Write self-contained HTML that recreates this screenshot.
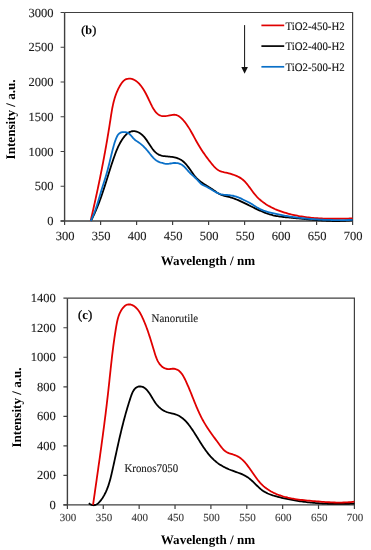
<!DOCTYPE html><html><head><meta charset="utf-8"><style>html,body{margin:0;padding:0;background:#fff;}svg{display:block;}</style></head><body>
<svg width="371" height="550" viewBox="0 0 371 550" text-rendering="geometricPrecision" font-family="'Liberation Serif', 'Times New Roman', serif" fill="#1a1a1a">
<path d="M64.6 12.5H352.6V221" fill="none" stroke="#404040" stroke-width="1.2"/>
<path d="M64.6 12.5V221M60.6 221H352.6" fill="none" stroke="#404040" stroke-width="1.4"/>
<path d="M60.6 221H64.6M60.6 186.25H64.6M60.6 151.5H64.6M60.6 116.75H64.6M60.6 82H64.6M60.6 47.25H64.6M60.6 12.5H64.6M64.6 221V225M100.6 221V225M136.6 221V225M172.6 221V225M208.6 221V225M244.6 221V225M280.6 221V225M316.6 221V225M352.6 221V225" fill="none" stroke="#404040" stroke-width="1.2"/>
<text transform="translate(53.4,225)" font-size="12.5" text-anchor="end" stroke="#1a1a1a" stroke-width="0.12">0</text>
<text transform="translate(53.4,190.25)" font-size="12.5" text-anchor="end" stroke="#1a1a1a" stroke-width="0.12">500</text>
<text transform="translate(53.4,155.5)" font-size="12.5" text-anchor="end" stroke="#1a1a1a" stroke-width="0.12">1000</text>
<text transform="translate(53.4,120.75)" font-size="12.5" text-anchor="end" stroke="#1a1a1a" stroke-width="0.12">1500</text>
<text transform="translate(53.4,86)" font-size="12.5" text-anchor="end" stroke="#1a1a1a" stroke-width="0.12">2000</text>
<text transform="translate(53.4,51.25)" font-size="12.5" text-anchor="end" stroke="#1a1a1a" stroke-width="0.12">2500</text>
<text transform="translate(53.4,16.5)" font-size="12.5" text-anchor="end" stroke="#1a1a1a" stroke-width="0.12">3000</text>
<text transform="translate(65.1,240.2)" font-size="12.5" text-anchor="middle" stroke="#1a1a1a" stroke-width="0.12">300</text>
<text transform="translate(101.1,240.2)" font-size="12.5" text-anchor="middle" stroke="#1a1a1a" stroke-width="0.12">350</text>
<text transform="translate(137.1,240.2)" font-size="12.5" text-anchor="middle" stroke="#1a1a1a" stroke-width="0.12">400</text>
<text transform="translate(173.1,240.2)" font-size="12.5" text-anchor="middle" stroke="#1a1a1a" stroke-width="0.12">450</text>
<text transform="translate(209.1,240.2)" font-size="12.5" text-anchor="middle" stroke="#1a1a1a" stroke-width="0.12">500</text>
<text transform="translate(245.1,240.2)" font-size="12.5" text-anchor="middle" stroke="#1a1a1a" stroke-width="0.12">550</text>
<text transform="translate(281.1,240.2)" font-size="12.5" text-anchor="middle" stroke="#1a1a1a" stroke-width="0.12">600</text>
<text transform="translate(317.1,240.2)" font-size="12.5" text-anchor="middle" stroke="#1a1a1a" stroke-width="0.12">650</text>
<text transform="translate(353.1,240.2)" font-size="12.5" text-anchor="middle" stroke="#1a1a1a" stroke-width="0.12">700</text>
<path d="M90.62 220.81 L90.96 219.38 L91.29 217.94 L91.62 216.51 L91.95 215.08 L92.28 213.65 L92.61 212.22 L92.93 210.79 L93.26 209.36 L93.58 207.93 L93.90 206.50 L94.22 205.07 L94.54 203.64 L94.86 202.21 L95.17 200.78 L95.49 199.35 L95.80 197.92 L96.11 196.49 L96.42 195.06 L96.73 193.63 L97.04 192.20 L97.34 190.77 L97.65 189.34 L97.95 187.91 L98.25 186.48 L98.55 185.05 L98.85 183.62 L99.14 182.19 L99.44 180.75 L99.73 179.32 L100.02 177.89 L100.31 176.46 L100.60 175.03 L100.89 173.59 L101.17 172.16 L101.46 170.73 L101.74 169.30 L102.02 167.86 L102.30 166.43 L102.58 164.99 L102.85 163.56 L103.13 162.13 L103.40 160.69 L103.67 159.25 L103.94 157.82 L104.21 156.38 L104.47 154.95 L104.74 153.51 L105.00 152.07 L105.26 150.63 L105.52 149.19 L105.77 147.75 L106.03 146.31 L106.28 144.87 L106.54 143.43 L106.79 141.99 L107.03 140.55 L107.28 139.11 L107.53 137.66 L107.77 136.22 L108.01 134.77 L108.25 133.33 L108.49 131.88 L108.72 130.44 L108.96 128.99 L109.19 127.54 L109.42 126.09 L109.65 124.64 L109.88 123.19 L110.10 121.74 L110.33 120.29 L110.55 118.84 L110.77 117.39 L110.99 115.93 L111.22 114.48 L111.45 113.03 L111.69 111.58 L111.94 110.14 L112.20 108.70 L112.47 107.26 L112.76 105.83 L113.07 104.40 L113.39 102.97 L113.74 101.56 L114.11 100.15 L114.51 98.75 L114.93 97.35 L115.38 95.97 L115.86 94.59 L116.38 93.23 L116.93 91.87 L117.51 90.53 L118.14 89.20 L118.80 87.88 L119.51 86.57 L120.27 85.28 L121.07 84.01 L121.92 82.77 L122.85 81.63 L123.86 80.61 L124.97 79.78 L126.19 79.16 L127.52 78.78 L128.92 78.63 L130.34 78.69 L131.77 78.95 L133.14 79.39 L134.46 79.99 L135.71 80.74 L136.91 81.62 L138.04 82.61 L139.12 83.69 L140.13 84.84 L141.10 86.04 L142.00 87.28 L142.86 88.53 L143.66 89.79 L144.41 91.03 L145.12 92.27 L145.80 93.51 L146.45 94.75 L147.08 95.99 L147.69 97.25 L148.30 98.51 L148.91 99.80 L149.53 101.10 L150.16 102.42 L150.81 103.78 L151.49 105.16 L152.20 106.56 L152.96 107.95 L153.76 109.30 L154.61 110.60 L155.52 111.81 L156.49 112.92 L157.54 113.89 L158.66 114.70 L159.86 115.33 L161.14 115.77 L162.49 116.03 L163.89 116.14 L165.34 116.11 L166.82 115.95 L168.31 115.70 L169.81 115.39 L171.29 115.09 L172.75 114.86 L174.18 114.76 L175.55 114.86 L176.85 115.20 L178.10 115.76 L179.29 116.49 L180.42 117.37 L181.51 118.36 L182.55 119.42 L183.54 120.52 L184.49 121.65 L185.41 122.80 L186.29 123.98 L187.14 125.18 L187.96 126.40 L188.75 127.64 L189.53 128.89 L190.28 130.16 L191.02 131.43 L191.74 132.72 L192.45 134.01 L193.16 135.30 L193.86 136.60 L194.55 137.90 L195.25 139.19 L195.96 140.48 L196.67 141.76 L197.39 143.03 L198.12 144.29 L198.86 145.54 L199.62 146.78 L200.38 148.02 L201.16 149.24 L201.95 150.46 L202.75 151.67 L203.57 152.87 L204.40 154.07 L205.24 155.26 L206.09 156.44 L206.95 157.62 L207.83 158.80 L208.72 159.97 L209.63 161.13 L210.55 162.29 L211.48 163.45 L212.43 164.61 L213.39 165.75 L214.39 166.86 L215.42 167.91 L216.51 168.87 L217.66 169.73 L218.88 170.46 L220.18 171.06 L221.54 171.54 L222.95 171.95 L224.38 172.31 L225.83 172.64 L227.27 172.98 L228.71 173.34 L230.13 173.71 L231.54 174.12 L232.93 174.55 L234.30 175.02 L235.64 175.54 L236.95 176.10 L238.22 176.71 L239.46 177.38 L240.65 178.11 L241.80 178.91 L242.90 179.78 L243.95 180.72 L244.96 181.72 L245.93 182.78 L246.87 183.88 L247.79 185.02 L248.69 186.19 L249.57 187.38 L250.45 188.59 L251.33 189.80 L252.22 191.01 L253.11 192.21 L254.02 193.40 L254.96 194.55 L255.92 195.68 L256.92 196.76 L257.94 197.81 L259.00 198.82 L260.08 199.79 L261.19 200.73 L262.33 201.64 L263.49 202.51 L264.67 203.35 L265.88 204.16 L267.10 204.93 L268.35 205.68 L269.62 206.39 L270.90 207.08 L272.21 207.74 L273.52 208.37 L274.85 208.98 L276.20 209.56 L277.55 210.12 L278.92 210.65 L280.30 211.16 L281.68 211.65 L283.07 212.11 L284.47 212.56 L285.87 212.98 L287.28 213.39 L288.69 213.78 L290.10 214.15 L291.52 214.50 L292.94 214.83 L294.36 215.15 L295.79 215.45 L297.21 215.74 L298.64 216.01 L300.08 216.27 L301.51 216.51 L302.95 216.73 L304.39 216.94 L305.83 217.14 L307.28 217.32 L308.72 217.49 L310.17 217.65 L311.62 217.80 L313.07 217.93 L314.53 218.05 L315.98 218.16 L317.44 218.26 L318.89 218.35 L320.35 218.43 L321.81 218.50 L323.28 218.56 L324.74 218.62 L326.20 218.66 L327.67 218.69 L329.13 218.72 L330.60 218.74 L332.07 218.76 L333.53 218.76 L335.00 218.76 L336.47 218.76 L337.94 218.75 L339.41 218.73 L340.88 218.71 L342.35 218.68 L343.81 218.66 L345.28 218.62 L346.75 218.59 L348.22 218.55 L349.69 218.51 L351.16 218.47 L352.63 218.42" fill="none" stroke="#e00000" stroke-width="1.8" stroke-linejoin="round"/>
<path d="M90.94 220.92 L91.48 219.87 L92.01 218.83 L92.53 217.78 L93.04 216.72 L93.55 215.66 L94.04 214.60 L94.53 213.54 L95.01 212.47 L95.48 211.40 L95.95 210.32 L96.40 209.25 L96.85 208.17 L97.30 207.08 L97.73 206.00 L98.16 204.91 L98.59 203.82 L99.00 202.73 L99.42 201.63 L99.82 200.54 L100.23 199.44 L100.62 198.34 L101.02 197.23 L101.40 196.13 L101.79 195.02 L102.17 193.92 L102.54 192.81 L102.92 191.70 L103.29 190.58 L103.65 189.47 L104.02 188.36 L104.38 187.24 L104.74 186.12 L105.10 185.01 L105.45 183.89 L105.81 182.77 L106.16 181.65 L106.51 180.53 L106.86 179.41 L107.22 178.29 L107.57 177.17 L107.92 176.04 L108.27 174.92 L108.62 173.80 L108.97 172.68 L109.32 171.56 L109.68 170.44 L110.03 169.32 L110.39 168.20 L110.75 167.08 L111.11 165.96 L111.47 164.84 L111.84 163.72 L112.21 162.61 L112.58 161.49 L112.96 160.38 L113.34 159.27 L113.72 158.15 L114.11 157.04 L114.50 155.93 L114.89 154.83 L115.30 153.73 L115.71 152.63 L116.14 151.53 L116.58 150.44 L117.02 149.36 L117.49 148.28 L117.97 147.22 L118.46 146.16 L118.98 145.10 L119.52 144.06 L120.07 143.03 L120.65 142.01 L121.25 141.00 L121.88 140.01 L122.54 139.03 L123.22 138.06 L123.94 137.10 L124.68 136.17 L125.46 135.27 L126.29 134.42 L127.16 133.63 L128.10 132.93 L129.09 132.33 L130.13 131.84 L131.21 131.48 L132.30 131.23 L133.40 131.13 L134.49 131.16 L135.57 131.31 L136.63 131.58 L137.67 131.97 L138.69 132.45 L139.68 133.02 L140.65 133.68 L141.58 134.41 L142.48 135.20 L143.34 136.05 L144.16 136.94 L144.94 137.88 L145.70 138.85 L146.43 139.85 L147.13 140.87 L147.82 141.90 L148.50 142.95 L149.18 143.99 L149.84 145.03 L150.51 146.06 L151.19 147.08 L151.87 148.07 L152.57 149.02 L153.29 149.95 L154.04 150.82 L154.81 151.65 L155.61 152.43 L156.45 153.14 L157.34 153.78 L158.27 154.34 L159.25 154.83 L160.28 155.23 L161.36 155.55 L162.48 155.81 L163.63 156.02 L164.81 156.18 L166.02 156.32 L167.23 156.43 L168.46 156.54 L169.68 156.65 L170.90 156.78 L172.10 156.93 L173.28 157.12 L174.44 157.35 L175.58 157.63 L176.68 157.95 L177.76 158.33 L178.81 158.75 L179.82 159.23 L180.80 159.77 L181.74 160.36 L182.65 161.01 L183.52 161.72 L184.36 162.48 L185.16 163.29 L185.94 164.14 L186.70 165.03 L187.43 165.95 L188.15 166.89 L188.86 167.86 L189.56 168.84 L190.26 169.84 L190.95 170.84 L191.65 171.83 L192.35 172.83 L193.06 173.81 L193.78 174.78 L194.52 175.72 L195.28 176.64 L196.06 177.53 L196.87 178.38 L197.70 179.19 L198.56 179.97 L199.45 180.72 L200.35 181.45 L201.27 182.14 L202.21 182.82 L203.16 183.48 L204.12 184.13 L205.10 184.76 L206.08 185.38 L207.07 186.00 L208.06 186.62 L209.05 187.23 L210.05 187.85 L211.04 188.48 L212.02 189.12 L213.00 189.77 L213.98 190.44 L214.95 191.11 L215.92 191.77 L216.89 192.42 L217.88 193.05 L218.88 193.64 L219.90 194.19 L220.94 194.68 L222.01 195.11 L223.11 195.47 L224.23 195.80 L225.36 196.09 L226.50 196.36 L227.64 196.62 L228.79 196.90 L229.92 197.19 L231.04 197.51 L232.16 197.86 L233.26 198.23 L234.36 198.62 L235.45 199.04 L236.54 199.47 L237.61 199.91 L238.69 200.38 L239.75 200.85 L240.82 201.34 L241.88 201.83 L242.94 202.33 L244.00 202.84 L245.05 203.36 L246.11 203.88 L247.16 204.40 L248.21 204.92 L249.27 205.45 L250.32 205.98 L251.37 206.50 L252.42 207.03 L253.48 207.55 L254.54 208.07 L255.59 208.58 L256.65 209.09 L257.71 209.59 L258.78 210.08 L259.85 210.57 L260.92 211.04 L261.99 211.50 L263.07 211.95 L264.15 212.39 L265.24 212.81 L266.33 213.22 L267.43 213.61 L268.53 213.98 L269.64 214.34 L270.76 214.67 L271.88 214.98 L273.01 215.28 L274.14 215.55 L275.29 215.79 L276.44 216.02 L277.59 216.22 L278.76 216.41 L279.92 216.58 L281.09 216.73 L282.27 216.88 L283.45 217.01 L284.63 217.13 L285.81 217.25 L286.99 217.36 L288.17 217.46 L289.35 217.57 L290.53 217.68 L291.71 217.78 L292.88 217.89 L294.06 218.00 L295.23 218.12 L296.40 218.23 L297.57 218.35 L298.74 218.46 L299.91 218.58 L301.07 218.69 L302.23 218.81 L303.40 218.92 L304.56 219.04 L305.72 219.15 L306.88 219.27 L308.04 219.38 L309.20 219.49 L310.36 219.60 L311.52 219.70 L312.68 219.81 L313.84 219.91 L314.99 220.00 L316.15 220.10 L317.31 220.19 L318.47 220.28 L319.63 220.37 L320.79 220.45 L321.95 220.52 L323.11 220.59 L324.27 220.66 L325.43 220.72 L326.59 220.78 L327.76 220.83 L328.92 220.88 L330.09 220.92 L331.26 220.95 L332.43 220.98 L333.60 221.00 L334.77 221.01 L335.94 221.01 L337.12 221.01 L338.29 221.00 L339.47 220.99 L340.65 220.96 L341.84 220.93 L343.02 220.88 L344.21 220.83 L345.40 220.77 L346.60 220.70 L347.79 220.62 L348.99 220.53 L350.19 220.43 L351.39 220.32 L352.60 220.20" fill="none" stroke="#000000" stroke-width="1.8" stroke-linejoin="round"/>
<path d="M90.74 220.82 L91.27 219.75 L91.79 218.69 L92.29 217.61 L92.77 216.53 L93.24 215.45 L93.69 214.36 L94.13 213.26 L94.55 212.16 L94.96 211.06 L95.37 209.95 L95.76 208.83 L96.14 207.72 L96.51 206.60 L96.87 205.47 L97.23 204.35 L97.58 203.22 L97.92 202.09 L98.27 200.96 L98.60 199.82 L98.94 198.69 L99.27 197.55 L99.61 196.42 L99.94 195.28 L100.27 194.14 L100.61 193.01 L100.95 191.87 L101.29 190.74 L101.64 189.60 L101.99 188.47 L102.35 187.34 L102.70 186.21 L103.06 185.08 L103.42 183.95 L103.78 182.82 L104.14 181.69 L104.49 180.57 L104.85 179.44 L105.20 178.31 L105.55 177.18 L105.89 176.04 L106.23 174.91 L106.56 173.78 L106.88 172.64 L107.20 171.51 L107.51 170.37 L107.82 169.23 L108.12 168.09 L108.41 166.95 L108.70 165.80 L108.99 164.66 L109.27 163.52 L109.55 162.37 L109.83 161.22 L110.10 160.08 L110.38 158.93 L110.66 157.78 L110.94 156.63 L111.21 155.48 L111.49 154.33 L111.78 153.18 L112.06 152.03 L112.35 150.88 L112.65 149.73 L112.95 148.58 L113.26 147.43 L113.57 146.28 L113.89 145.13 L114.22 143.99 L114.57 142.85 L114.93 141.72 L115.32 140.59 L115.73 139.48 L116.16 138.39 L116.62 137.31 L117.13 136.25 L117.69 135.25 L118.36 134.33 L119.15 133.54 L120.11 132.91 L121.21 132.45 L122.39 132.16 L123.63 132.03 L124.88 132.06 L126.10 132.25 L127.25 132.61 L128.28 133.12 L129.22 133.78 L130.07 134.54 L130.86 135.38 L131.62 136.26 L132.38 137.17 L133.15 138.07 L133.96 138.92 L134.83 139.72 L135.76 140.44 L136.74 141.12 L137.73 141.79 L138.71 142.45 L139.68 143.14 L140.61 143.86 L141.52 144.61 L142.40 145.39 L143.26 146.19 L144.10 147.01 L144.92 147.86 L145.72 148.72 L146.51 149.61 L147.28 150.50 L148.04 151.42 L148.79 152.35 L149.53 153.28 L150.27 154.22 L151.02 155.16 L151.77 156.07 L152.54 156.97 L153.34 157.84 L154.16 158.66 L155.02 159.44 L155.91 160.16 L156.86 160.82 L157.85 161.41 L158.91 161.91 L160.03 162.33 L161.20 162.67 L162.39 162.98 L163.57 163.30 L164.72 163.62 L165.87 163.85 L167.01 163.93 L168.16 163.87 L169.31 163.71 L170.48 163.50 L171.64 163.28 L172.82 163.10 L174.01 163.00 L175.20 162.99 L176.38 163.07 L177.54 163.23 L178.68 163.48 L179.78 163.83 L180.85 164.28 L181.87 164.83 L182.83 165.47 L183.74 166.21 L184.61 167.02 L185.44 167.89 L186.25 168.79 L187.05 169.72 L187.85 170.64 L188.65 171.54 L189.48 172.41 L190.31 173.25 L191.16 174.06 L192.02 174.86 L192.89 175.64 L193.75 176.42 L194.62 177.21 L195.47 178.01 L196.32 178.83 L197.15 179.67 L197.96 180.55 L198.76 181.46 L199.57 182.36 L200.40 183.22 L201.29 184.00 L202.24 184.66 L203.25 185.21 L204.31 185.70 L205.38 186.18 L206.44 186.70 L207.49 187.26 L208.53 187.85 L209.56 188.46 L210.58 189.08 L211.61 189.71 L212.63 190.33 L213.65 190.95 L214.69 191.55 L215.73 192.11 L216.77 192.65 L217.84 193.14 L218.92 193.58 L220.01 193.96 L221.13 194.27 L222.27 194.51 L223.43 194.68 L224.61 194.81 L225.79 194.91 L226.98 195.00 L228.17 195.09 L229.36 195.20 L230.53 195.35 L231.70 195.53 L232.86 195.75 L234.01 196.00 L235.15 196.30 L236.27 196.64 L237.38 197.03 L238.49 197.46 L239.58 197.92 L240.66 198.42 L241.73 198.93 L242.80 199.46 L243.87 199.99 L244.93 200.52 L245.99 201.03 L247.05 201.53 L248.10 202.04 L249.14 202.57 L250.17 203.14 L251.19 203.73 L252.19 204.35 L253.20 204.99 L254.19 205.64 L255.19 206.29 L256.20 206.92 L257.21 207.54 L258.24 208.12 L259.28 208.68 L260.34 209.19 L261.41 209.68 L262.49 210.13 L263.59 210.56 L264.70 210.96 L265.81 211.33 L266.94 211.69 L268.07 212.02 L269.21 212.34 L270.36 212.64 L271.51 212.92 L272.66 213.20 L273.82 213.46 L274.97 213.72 L276.13 213.97 L277.29 214.22 L278.45 214.46 L279.61 214.70 L280.77 214.93 L281.94 215.15 L283.10 215.37 L284.26 215.58 L285.43 215.79 L286.59 215.99 L287.76 216.18 L288.93 216.37 L290.10 216.56 L291.26 216.74 L292.43 216.91 L293.60 217.08 L294.78 217.24 L295.95 217.40 L297.12 217.55 L298.29 217.70 L299.47 217.84 L300.64 217.98 L301.81 218.12 L302.99 218.24 L304.16 218.37 L305.34 218.49 L306.52 218.60 L307.69 218.71 L308.87 218.81 L310.05 218.91 L311.23 219.01 L312.41 219.10 L313.59 219.19 L314.76 219.27 L315.94 219.35 L317.12 219.42 L318.31 219.49 L319.49 219.56 L320.67 219.62 L321.85 219.68 L323.03 219.73 L324.21 219.78 L325.39 219.82 L326.58 219.86 L327.76 219.90 L328.94 219.94 L330.12 219.97 L331.31 219.99 L332.49 220.02 L333.67 220.04 L334.86 220.05 L336.04 220.06 L337.22 220.07 L338.41 220.08 L339.59 220.08 L340.77 220.08 L341.96 220.08 L343.14 220.07 L344.32 220.06 L345.50 220.04 L346.69 220.03 L347.87 220.01 L349.05 219.99 L350.24 219.96 L351.42 219.93 L352.60 219.90" fill="none" stroke="#0a70c8" stroke-width="1.8" stroke-linejoin="round"/>
<text transform="translate(81.3,34.4)" font-size="12.2" font-weight="bold" fill="#000"><tspan font-weight="normal" stroke="#000" stroke-width="0.3">(</tspan>b<tspan font-weight="normal" stroke="#000" stroke-width="0.3">)</tspan></text>
<path d="M261.4 25.4H284.2" stroke="#e00000" stroke-width="1.7"/>
<text transform="translate(285.6,29.6) scale(1,1.06)" font-size="10.8" fill="#111" stroke="#111" stroke-width="0.12">TiO2-450-H2</text>
<path d="M261.4 46.1H284.2" stroke="#000000" stroke-width="1.7"/>
<text transform="translate(285.6,50.3) scale(1,1.06)" font-size="10.8" fill="#111" stroke="#111" stroke-width="0.12">TiO2-400-H2</text>
<path d="M261.4 66.8H284.2" stroke="#0a70c8" stroke-width="1.7"/>
<text transform="translate(285.6,71) scale(1,1.06)" font-size="10.8" fill="#111" stroke="#111" stroke-width="0.12">TiO2-500-H2</text>
<path d="M244.6 25.1V68" stroke="#111" stroke-width="1"/>
<path d="M241.3 67.1H247.9L244.6 73.8Z" fill="#111"/>
<text transform="translate(207.9,265.3)" font-size="13.05" text-anchor="middle" font-weight="bold" fill="#000">Wavelength / nm</text>
<text transform="translate(15.1,119.4) rotate(-90)" font-size="13.1" text-anchor="middle" font-weight="bold" fill="#000">Intensity / a.u.</text>
<path d="M67.4 298.2H354.4V504.9" fill="none" stroke="#404040" stroke-width="1.2"/>
<path d="M67.4 298.2V504.9M63.4 504.9H354.4" fill="none" stroke="#404040" stroke-width="1.4"/>
<path d="M63.4 504.9H67.4M63.4 475.37H67.4M63.4 445.84H67.4M63.4 416.31H67.4M63.4 386.79H67.4M63.4 357.26H67.4M63.4 327.73H67.4M63.4 298.2H67.4M67.4 504.9V508.9M103.28 504.9V508.9M139.15 504.9V508.9M175.03 504.9V508.9M210.9 504.9V508.9M246.78 504.9V508.9M282.65 504.9V508.9M318.52 504.9V508.9M354.4 504.9V508.9" fill="none" stroke="#404040" stroke-width="1.2"/>
<text transform="translate(55.8,508.9)" font-size="12.5" text-anchor="end" stroke="#1a1a1a" stroke-width="0.12">0</text>
<text transform="translate(55.8,479.37)" font-size="12.5" text-anchor="end" stroke="#1a1a1a" stroke-width="0.12">200</text>
<text transform="translate(55.8,449.84)" font-size="12.5" text-anchor="end" stroke="#1a1a1a" stroke-width="0.12">400</text>
<text transform="translate(55.8,420.31)" font-size="12.5" text-anchor="end" stroke="#1a1a1a" stroke-width="0.12">600</text>
<text transform="translate(55.8,390.79)" font-size="12.5" text-anchor="end" stroke="#1a1a1a" stroke-width="0.12">800</text>
<text transform="translate(55.8,361.26)" font-size="12.5" text-anchor="end" stroke="#1a1a1a" stroke-width="0.12">1000</text>
<text transform="translate(55.8,331.73)" font-size="12.5" text-anchor="end" stroke="#1a1a1a" stroke-width="0.12">1200</text>
<text transform="translate(55.8,302.2)" font-size="12.5" text-anchor="end" stroke="#1a1a1a" stroke-width="0.12">1400</text>
<text transform="translate(68.1,520.9)" font-size="11" text-anchor="middle" fill="#3a3a3a" stroke="#3a3a3a" stroke-width="0.12">300</text>
<text transform="translate(103.98,520.9)" font-size="11" text-anchor="middle" fill="#3a3a3a" stroke="#3a3a3a" stroke-width="0.12">350</text>
<text transform="translate(139.85,520.9)" font-size="11" text-anchor="middle" fill="#3a3a3a" stroke="#3a3a3a" stroke-width="0.12">400</text>
<text transform="translate(175.72,520.9)" font-size="11" text-anchor="middle" fill="#3a3a3a" stroke="#3a3a3a" stroke-width="0.12">450</text>
<text transform="translate(211.6,520.9)" font-size="11" text-anchor="middle" fill="#3a3a3a" stroke="#3a3a3a" stroke-width="0.12">500</text>
<text transform="translate(247.47,520.9)" font-size="11" text-anchor="middle" fill="#3a3a3a" stroke="#3a3a3a" stroke-width="0.12">550</text>
<text transform="translate(283.35,520.9)" font-size="11" text-anchor="middle" fill="#3a3a3a" stroke="#3a3a3a" stroke-width="0.12">600</text>
<text transform="translate(319.22,520.9)" font-size="11" text-anchor="middle" fill="#3a3a3a" stroke="#3a3a3a" stroke-width="0.12">650</text>
<text transform="translate(355.1,520.9)" font-size="11" text-anchor="middle" fill="#3a3a3a" stroke="#3a3a3a" stroke-width="0.12">700</text>
<path d="M88.79 503.33 L90.23 504.30 L91.59 504.92 L92.88 505.22 L94.10 505.23 L95.26 505.00 L96.35 504.54 L97.39 503.90 L98.37 503.10 L99.29 502.19 L100.17 501.18 L101.01 500.11 L101.80 499.02 L102.55 497.91 L103.27 496.78 L103.95 495.63 L104.59 494.46 L105.20 493.28 L105.78 492.08 L106.33 490.86 L106.86 489.64 L107.35 488.40 L107.82 487.15 L108.27 485.89 L108.69 484.62 L109.10 483.34 L109.49 482.05 L109.86 480.76 L110.21 479.46 L110.55 478.16 L110.88 476.85 L111.20 475.54 L111.51 474.23 L111.81 472.92 L112.11 471.61 L112.40 470.30 L112.69 468.99 L112.98 467.68 L113.27 466.38 L113.56 465.08 L113.84 463.78 L114.13 462.48 L114.41 461.18 L114.69 459.89 L114.97 458.60 L115.25 457.30 L115.54 456.01 L115.82 454.73 L116.10 453.44 L116.38 452.15 L116.66 450.87 L116.94 449.58 L117.22 448.30 L117.51 447.01 L117.79 445.73 L118.08 444.45 L118.36 443.17 L118.65 441.89 L118.94 440.61 L119.23 439.32 L119.53 438.04 L119.82 436.76 L120.12 435.48 L120.42 434.20 L120.73 432.92 L121.03 431.63 L121.34 430.35 L121.65 429.07 L121.97 427.78 L122.29 426.50 L122.61 425.21 L122.94 423.92 L123.27 422.63 L123.60 421.34 L123.94 420.05 L124.28 418.76 L124.63 417.46 L124.98 416.17 L125.34 414.87 L125.70 413.57 L126.07 412.27 L126.44 410.96 L126.82 409.66 L127.21 408.35 L127.60 407.04 L127.99 405.72 L128.39 404.41 L128.80 403.09 L129.22 401.76 L129.64 400.44 L130.07 399.11 L130.50 397.78 L130.95 396.45 L131.41 395.14 L131.90 393.85 L132.43 392.62 L133.01 391.45 L133.64 390.36 L134.34 389.38 L135.12 388.50 L135.98 387.76 L136.94 387.17 L138.00 386.74 L139.14 386.49 L140.33 386.42 L141.51 386.55 L142.67 386.88 L143.77 387.41 L144.82 388.11 L145.83 388.95 L146.79 389.93 L147.70 391.00 L148.58 392.15 L149.42 393.36 L150.22 394.59 L150.99 395.83 L151.73 397.05 L152.45 398.24 L153.16 399.40 L153.86 400.54 L154.56 401.63 L155.29 402.70 L156.04 403.74 L156.82 404.74 L157.66 405.71 L158.54 406.65 L159.48 407.54 L160.48 408.39 L161.52 409.19 L162.61 409.93 L163.75 410.62 L164.94 411.23 L166.16 411.78 L167.43 412.24 L168.74 412.63 L170.07 412.97 L171.41 413.28 L172.74 413.58 L174.06 413.91 L175.34 414.28 L176.58 414.73 L177.77 415.24 L178.92 415.82 L180.03 416.47 L181.10 417.17 L182.14 417.92 L183.13 418.73 L184.10 419.59 L185.04 420.48 L185.94 421.42 L186.83 422.39 L187.68 423.40 L188.52 424.43 L189.33 425.48 L190.13 426.56 L190.91 427.65 L191.68 428.75 L192.44 429.87 L193.19 430.99 L193.92 432.12 L194.65 433.25 L195.38 434.39 L196.10 435.53 L196.81 436.68 L197.52 437.82 L198.23 438.97 L198.94 440.11 L199.65 441.26 L200.37 442.40 L201.08 443.53 L201.81 444.66 L202.53 445.78 L203.27 446.89 L204.02 447.99 L204.77 449.09 L205.54 450.17 L206.32 451.24 L207.11 452.29 L207.92 453.33 L208.74 454.35 L209.59 455.35 L210.45 456.34 L211.33 457.30 L212.23 458.24 L213.16 459.16 L214.11 460.06 L215.09 460.93 L216.09 461.78 L217.12 462.60 L218.19 463.39 L219.27 464.15 L220.39 464.88 L221.53 465.58 L222.69 466.26 L223.88 466.91 L225.08 467.53 L226.29 468.13 L227.52 468.69 L228.76 469.24 L230.01 469.75 L231.27 470.24 L232.52 470.71 L233.78 471.17 L235.04 471.62 L236.30 472.06 L237.55 472.51 L238.79 472.97 L240.02 473.44 L241.24 473.93 L242.44 474.44 L243.62 474.99 L244.78 475.58 L245.92 476.21 L247.03 476.88 L248.12 477.61 L249.17 478.40 L250.20 479.23 L251.22 480.10 L252.21 481.01 L253.19 481.94 L254.16 482.88 L255.13 483.84 L256.10 484.80 L257.07 485.75 L258.05 486.69 L259.04 487.61 L260.05 488.51 L261.07 489.36 L262.12 490.18 L263.20 490.94 L264.31 491.65 L265.44 492.31 L266.60 492.92 L267.78 493.48 L268.99 494.01 L270.21 494.49 L271.45 494.95 L272.70 495.37 L273.97 495.76 L275.25 496.14 L276.53 496.49 L277.82 496.83 L279.12 497.16 L280.41 497.48 L281.71 497.78 L283.01 498.09 L284.31 498.38 L285.61 498.66 L286.92 498.94 L288.22 499.21 L289.53 499.47 L290.83 499.72 L292.14 499.96 L293.45 500.20 L294.76 500.43 L296.07 500.65 L297.39 500.86 L298.70 501.06 L300.01 501.26 L301.33 501.45 L302.65 501.63 L303.96 501.81 L305.28 501.98 L306.60 502.14 L307.92 502.29 L309.24 502.43 L310.56 502.57 L311.88 502.70 L313.21 502.83 L314.53 502.95 L315.86 503.06 L317.18 503.16 L318.51 503.26 L319.83 503.35 L321.16 503.43 L322.48 503.51 L323.81 503.58 L325.14 503.64 L326.47 503.70 L327.80 503.75 L329.13 503.79 L330.46 503.83 L331.78 503.86 L333.11 503.89 L334.44 503.91 L335.78 503.92 L337.11 503.93 L338.44 503.93 L339.77 503.92 L341.10 503.91 L342.43 503.90 L343.76 503.88 L345.09 503.85 L346.42 503.82 L347.75 503.78 L349.08 503.73 L350.41 503.68 L351.74 503.63 L353.07 503.57 L354.40 503.50" fill="none" stroke="#000000" stroke-width="1.8" stroke-linejoin="round"/>
<path d="M93.04 504.98 L93.29 503.20 L93.54 501.42 L93.80 499.64 L94.05 497.86 L94.30 496.07 L94.56 494.29 L94.81 492.51 L95.07 490.72 L95.32 488.94 L95.58 487.15 L95.83 485.37 L96.09 483.58 L96.34 481.79 L96.59 480.01 L96.85 478.22 L97.10 476.43 L97.36 474.65 L97.61 472.86 L97.87 471.07 L98.12 469.28 L98.37 467.49 L98.62 465.71 L98.88 463.92 L99.13 462.13 L99.38 460.34 L99.63 458.55 L99.88 456.76 L100.13 454.97 L100.38 453.18 L100.63 451.39 L100.87 449.60 L101.12 447.81 L101.37 446.02 L101.61 444.23 L101.86 442.43 L102.10 440.64 L102.34 438.85 L102.58 437.06 L102.82 435.27 L103.06 433.48 L103.30 431.69 L103.53 429.89 L103.77 428.10 L104.00 426.31 L104.23 424.52 L104.47 422.73 L104.69 420.93 L104.92 419.14 L105.15 417.35 L105.37 415.56 L105.60 413.77 L105.82 411.98 L106.04 410.18 L106.26 408.39 L106.48 406.60 L106.69 404.81 L106.90 403.02 L107.12 401.23 L107.32 399.44 L107.53 397.64 L107.74 395.85 L107.94 394.06 L108.14 392.27 L108.34 390.48 L108.54 388.69 L108.73 386.90 L108.93 385.11 L109.12 383.32 L109.31 381.53 L109.50 379.74 L109.69 377.95 L109.88 376.16 L110.07 374.37 L110.26 372.58 L110.45 370.79 L110.64 369.00 L110.84 367.21 L111.03 365.42 L111.23 363.63 L111.43 361.84 L111.63 360.05 L111.83 358.25 L112.04 356.46 L112.25 354.67 L112.47 352.87 L112.69 351.08 L112.91 349.28 L113.14 347.49 L113.37 345.69 L113.61 343.90 L113.85 342.10 L114.10 340.30 L114.35 338.50 L114.62 336.70 L114.88 334.90 L115.16 333.10 L115.44 331.30 L115.73 329.50 L116.03 327.69 L116.33 325.89 L116.66 324.09 L117.00 322.29 L117.39 320.52 L117.82 318.76 L118.32 317.04 L118.88 315.34 L119.53 313.69 L120.28 312.09 L121.13 310.54 L122.09 309.05 L123.19 307.63 L124.41 306.32 L125.78 305.24 L127.27 304.52 L128.88 304.27 L130.58 304.50 L132.30 305.14 L133.97 306.08 L135.53 307.25 L136.92 308.56 L138.12 309.97 L139.18 311.46 L140.12 313.01 L140.98 314.60 L141.78 316.21 L142.55 317.83 L143.28 319.45 L144.00 321.09 L144.68 322.73 L145.35 324.38 L145.99 326.03 L146.62 327.70 L147.23 329.37 L147.82 331.05 L148.39 332.73 L148.96 334.43 L149.52 336.13 L150.06 337.84 L150.60 339.56 L151.14 341.29 L151.67 343.03 L152.20 344.78 L152.73 346.53 L153.27 348.30 L153.81 350.07 L154.35 351.86 L154.91 353.65 L155.49 355.44 L156.10 357.19 L156.78 358.91 L157.52 360.56 L158.36 362.13 L159.30 363.60 L160.35 364.96 L161.55 366.17 L162.90 367.24 L164.41 368.11 L166.07 368.74 L167.87 369.04 L169.81 368.99 L171.79 368.77 L173.64 368.73 L175.34 369.00 L176.88 369.54 L178.29 370.32 L179.57 371.32 L180.74 372.50 L181.81 373.84 L182.80 375.31 L183.72 376.88 L184.58 378.51 L185.41 380.19 L186.20 381.88 L186.97 383.57 L187.72 385.26 L188.45 386.95 L189.16 388.64 L189.86 390.33 L190.55 392.02 L191.23 393.71 L191.90 395.39 L192.57 397.07 L193.24 398.75 L193.90 400.42 L194.57 402.09 L195.25 403.76 L195.92 405.41 L196.61 407.07 L197.31 408.71 L198.03 410.35 L198.76 411.97 L199.51 413.59 L200.28 415.20 L201.07 416.80 L201.88 418.39 L202.73 419.97 L203.60 421.54 L204.51 423.09 L205.44 424.64 L206.40 426.17 L207.38 427.69 L208.38 429.21 L209.41 430.71 L210.44 432.21 L211.49 433.70 L212.56 435.18 L213.63 436.66 L214.70 438.13 L215.78 439.59 L216.87 441.06 L217.95 442.51 L219.02 443.97 L220.09 445.42 L221.17 446.86 L222.27 448.25 L223.44 449.56 L224.71 450.76 L226.10 451.80 L227.66 452.67 L229.37 453.35 L231.17 453.93 L233.00 454.48 L234.79 455.07 L236.49 455.77 L238.08 456.59 L239.57 457.52 L240.98 458.56 L242.30 459.69 L243.56 460.90 L244.76 462.18 L245.91 463.52 L247.02 464.91 L248.10 466.35 L249.17 467.81 L250.21 469.30 L251.25 470.80 L252.29 472.32 L253.33 473.83 L254.38 475.34 L255.44 476.84 L256.52 478.31 L257.63 479.76 L258.77 481.18 L259.95 482.55 L261.16 483.87 L262.43 485.14 L263.75 486.35 L265.13 487.48 L266.55 488.56 L268.02 489.58 L269.53 490.53 L271.08 491.43 L272.66 492.28 L274.27 493.07 L275.91 493.80 L277.58 494.49 L279.26 495.12 L280.95 495.71 L282.66 496.26 L284.39 496.76 L286.13 497.22 L287.87 497.65 L289.63 498.04 L291.40 498.40 L293.18 498.72 L294.96 499.02 L296.75 499.30 L298.55 499.55 L300.35 499.78 L302.15 499.99 L303.96 500.19 L305.77 500.38 L307.58 500.55 L309.39 500.72 L311.20 500.88 L313.01 501.03 L314.81 501.19 L316.61 501.34 L318.41 501.50 L320.20 501.64 L322.00 501.78 L323.79 501.92 L325.58 502.05 L327.37 502.16 L329.16 502.27 L330.95 502.36 L332.75 502.43 L334.54 502.50 L336.33 502.54 L338.13 502.57 L339.93 502.57 L341.73 502.56 L343.53 502.52 L345.34 502.46 L347.15 502.37 L348.96 502.25 L350.78 502.11 L352.61 501.93 L354.44 501.72" fill="none" stroke="#e00000" stroke-width="1.8" stroke-linejoin="round"/>
<text transform="translate(78,318.7)" font-size="12.8" font-weight="bold" fill="#000"><tspan font-weight="normal" stroke="#000" stroke-width="0.3">(</tspan>c<tspan font-weight="normal" stroke="#000" stroke-width="0.3">)</tspan></text>
<text transform="translate(151.6,321.6) scale(1,1.06)" font-size="10.9" stroke="#1a1a1a" stroke-width="0.12">Nanorutile</text>
<text transform="translate(124.4,471.7) scale(1,1.06)" font-size="10.9" stroke="#1a1a1a" stroke-width="0.12">Kronos7050</text>
<text transform="translate(207.9,543.6)" font-size="13.05" text-anchor="middle" font-weight="bold" fill="#000">Wavelength / nm</text>
<text transform="translate(21,407.5) rotate(-90)" font-size="13.1" text-anchor="middle" font-weight="bold" fill="#000">Intensity / a.u.</text>
</svg></body></html>
